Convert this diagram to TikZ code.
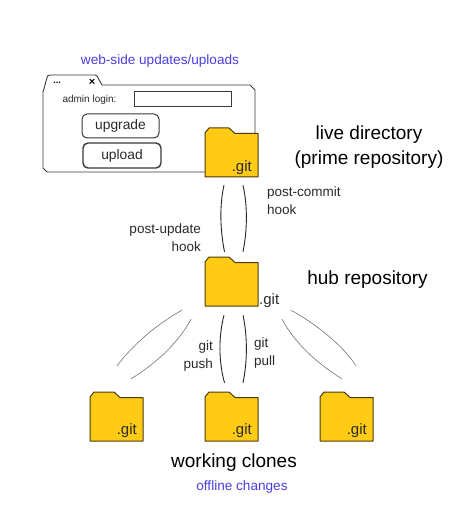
\documentclass[tikz,border=0pt]{standalone}
\usepackage{fontspec}
\setmainfont{Liberation Sans}
\definecolor{folderfill}{HTML}{FFCB14}
\definecolor{folderline}{HTML}{4A3A10}
\definecolor{winline}{HTML}{3A3A3A}
\definecolor{bluetext}{HTML}{4A3FE0}
\definecolor{labeltext}{HTML}{2A2A2A}
\tikzset{
  x=1pt,y=-1pt,
  side/.style={inner sep=0pt,text=labeltext,font=\fontsize{13.5}{17.5}\selectfont},
  big/.style={inner sep=0pt,text=black,font=\fontsize{19}{25}\selectfont,align=center},
  blue/.style={inner sep=0pt,text=bluetext,font=\fontsize{13.6}{15}\selectfont},
  gitlbl/.style={inner sep=0pt,text=labeltext,font=\fontsize{15}{16}\selectfont},
  foldernode/.style={inner sep=0pt,minimum width=53pt,minimum height=49pt},
  folderpath/.style={fill=folderfill,draw=folderline,line width=1pt,line join=round},
  link/.style={draw=black!85,line width=0.9pt},
  faint/.style={draw=black!55,line width=0.6pt},
  btn/.style={draw=winline,fill=white,rounded corners=5pt,line width=1pt,inner sep=0pt,text=labeltext,font=\fontsize{13.8}{15}\selectfont},
}
\newcommand{\folderat}[3]{% name, left x, top y
  \fill[folderpath] (#2,#3+49) -- (#2,#3+5) -- (#2+4,#3) -- (#2+24,#3) -- (#2+30,#3+5.5) -- (#2+53,#3+5.5) -- (#2+53,#3+49) -- cycle;
  \node[foldernode] (#1) at (#2+26.5,#3+24.5) {};
}
\begin{document}
\begin{tikzpicture}
\useasboundingbox (0,0) rectangle (474,526);
\fill[white] (0,0) rectangle (474,526);
% window
\draw[draw=winline,line width=0.9pt,line join=round,fill=white] (43,92) -- (47.5,76) -- (50,75) -- (95,75) -- (97,76) -- (102,85) -- (250,85) -- (255,90) -- (255,168) -- (251,172) -- (47,172) -- (43,168) -- cycle;
\node[inner sep=0pt,font=\fontsize{9}{9}\selectfont\bfseries,text=black] (dots) at (57,83) {...};
\node[inner sep=0pt,font=\fontsize{11}{11}\selectfont\bfseries,text=black] (close) at (92,82) {×};
\node[inner sep=0pt,text=labeltext,font=\fontsize{10}{11}\selectfont] (login) at (89.5,99.5) {admin login:};
\node[draw=winline,fill=white,line width=1pt,minimum width=97pt,minimum height=15pt,inner sep=0pt] (field) at (182.5,99.5) {};
\node[btn,minimum width=77pt,minimum height=24pt] (upgrade) at (120.5,126) {\raisebox{2pt}{upgrade}};
\node[btn,line width=1.4pt,minimum width=78pt,minimum height=25pt] (upload) at (122,155.5) {\raisebox{2pt}{upload}};
% folders
\folderat{live}{205}{128}
\folderat{hub}{205}{257}
\folderat{cl}{90}{392}
\folderat{cm}{205}{392}
\folderat{cr}{320}{392}
% git labels
\node[gitlbl,anchor=base east] at (252,172) {.git};
\node[gitlbl,anchor=base west] at (259,304) {.git};
\node[gitlbl,anchor=base east] at (137,434.5) {.git};
\node[gitlbl,anchor=base east] at (252,434.5) {.git};
\node[gitlbl,anchor=base east] at (367,434.5) {.git};
% connectors
\draw[link] ([xshift=-7.5pt,yshift=-8pt]live.south) .. controls ([xshift=-12pt,yshift=-28pt]live.south) and ([xshift=-11.5pt,yshift=-52pt]live.south) .. ([xshift=-7pt,yshift=5pt]hub.north);
\draw[link] ([xshift=11.5pt,yshift=-8pt]live.south) .. controls ([xshift=16pt,yshift=-28pt]live.south) and ([xshift=16pt,yshift=-52pt]live.south) .. ([xshift=11.5pt,yshift=5pt]hub.north);
\draw[link] ([xshift=-7.5pt,yshift=-9pt]hub.south) .. controls ([xshift=-13pt,yshift=-30pt]hub.south) and ([xshift=-13pt,yshift=-55pt]hub.south) .. ([xshift=-7pt,yshift=9pt]cm.north);
\draw[link] ([xshift=11.5pt,yshift=-9pt]hub.south) .. controls ([xshift=16pt,yshift=-30pt]hub.south) and ([xshift=16pt,yshift=-55pt]hub.south) .. ([xshift=11.5pt,yshift=9pt]cm.north);
\draw[faint] ([xshift=-49.5pt,yshift=-4pt]hub.south) .. controls ([xshift=-75pt,yshift=-18pt]hub.south) and ([xshift=-100pt,yshift=-40pt]hub.south) .. ([xshift=0.5pt,yshift=26pt]cl.north);
\draw[faint] ([xshift=-40.5pt,yshift=-13pt]hub.south) .. controls ([xshift=-55pt,yshift=-40pt]hub.south) and ([xshift=-80pt,yshift=-60pt]hub.south) .. ([xshift=14.5pt,yshift=13pt]cl.north);
\draw[faint] ([xshift=59.5pt,yshift=-4pt]hub.south) .. controls ([xshift=85pt,yshift=-18pt]hub.south) and ([xshift=112pt,yshift=-40pt]hub.south) .. ([xshift=9.5pt,yshift=26pt]cr.north);
\draw[faint] ([xshift=50.5pt,yshift=-13pt]hub.south) .. controls ([xshift=65pt,yshift=-40pt]hub.south) and ([xshift=90pt,yshift=-60pt]hub.south) .. ([xshift=-4.5pt,yshift=13pt]cr.north);
% labels
\node[blue] (web) at (160,60.5) {web-side updates/uploads};
\node[big] (livelbl) at (369,147) {live directory\\(prime repository)};
\node[big] (hublbl) at (367.5,280) {hub repository};
\node[big] (wc) at (234,463) {working clones};
\node[blue] (off) at (242,486.5) {offline changes};
\node[side,anchor=north west,align=left] (pc) at (267,187) {post-commit\\hook};
\node[side,anchor=north east,align=right] (pu) at (201,224) {post-update\\hook};
\node[side,anchor=north east,align=right] (gp) at (213,341) {git\\push};
\node[side,anchor=north west,align=left] (gl) at (254,338) {git\\pull};
\end{tikzpicture}
\end{document}
